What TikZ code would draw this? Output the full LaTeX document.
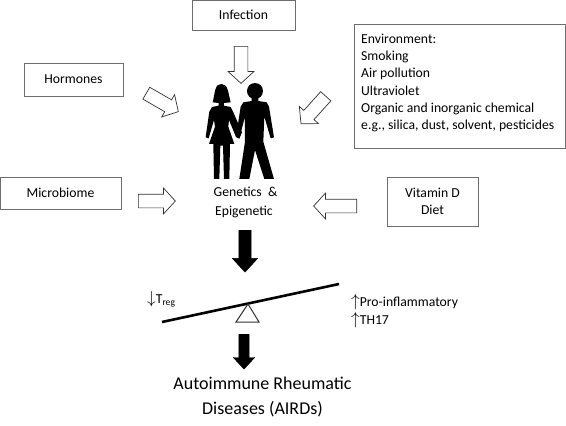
\documentclass[tikz,border=0pt]{standalone}
\usepackage{fontspec}
\setmainfont{Carlito}
\usetikzlibrary{shapes.arrows}
\definecolor{boxgray}{RGB}{110,110,110}
\definecolor{arrowgray}{RGB}{50,50,50}
\newcommand{\arrowup}{{\fontsize{16}{16}\selectfont$\uparrow$}}
\newcommand{\arrowdown}{{\fontsize{16}{16}\selectfont$\downarrow$}}

\begin{document}
\begin{tikzpicture}[x=1pt, y=-1pt, font=\fontsize{13.7}{17.3}\selectfont]

        % Styles
        \tikzset{
            factor/.style={draw=boxgray, line width=0.9pt, fill=white, align=center, inner sep=0pt},
            hollowarrow/.style={single arrow, draw=arrowgray, line width=0.7pt, fill=white, inner sep=6.5pt, minimum height=37pt, single arrow head extend=6pt, single arrow tip angle=95, single arrow head indent=0pt, anchor=tail},
            solidarrow/.style={single arrow, draw=black, fill=black, inner sep=6pt, single arrow head extend=6.5pt, single arrow tip angle=85, single arrow head indent=0pt, anchor=tail, rotate=-90},
            textlabel/.style={inner sep=0pt, align=left, anchor=west}
        }
        \useasboundingbox (0,0) rectangle (566,426);

        % --- FACTORS ---
        \node[factor, minimum width=103pt, minimum height=30pt] (infection) at (243.5,15) {Infection};
        \node[factor, minimum width=99pt, minimum height=33pt] (hormones) at (73.5,79.5) {\raisebox{1.5pt}{Hormones}};
        \node[factor, minimum width=121pt, minimum height=32pt] (microbiome) at (60.5,193) {Microbiome};
        \node[factor, minimum width=91pt, minimum height=49pt] (vitamin) at (432.5,201.5) {Vitamin D\\Diet};
        \node[factor, minimum width=211pt, minimum height=124pt] (environment) at (459.5,86) {};
        \node[textlabel, anchor=north west] (environmenttext) at (361,33.5) {Environment:\\Smoking\\Air pollution\\Ultraviolet\\Organic and inorganic chemical\\e.g., silica, dust, solvent, pesticides};

        % --- HOLLOW ARROWS ---
        \node[hollowarrow, rotate=-90] (infectionarrow) at (241,46) {};
        \node[hollowarrow, rotate=-30] (hormonesarrow) at (146,93) {};
        \node[hollowarrow, rotate=0] (microbiomearrow) at (138,201) {};
        \node[hollowarrow, rotate=228] (environmentarrow) at (326,96) {};
        \node[hollowarrow, rotate=180, minimum height=43pt] (vitaminarrow) at (357,206) {};

        % --- COUPLE ---
        \begin{scope}[shift={(200,75)}, x=0.3333pt, y=-0.3333pt]
            % woman
            \fill (64,27) .. controls (84,27) and (84,50) .. (92,82) -- (72,84) -- (72,92) -- (92,96)
                -- (100,112) -- (126,172) -- (118,191) -- (108,186) -- (87,135) -- (85,155) -- (103,207) -- (90,207)
                -- (88,312) -- (72,312) -- (69,212) -- (61,212) -- (58,312) -- (42,312) -- (40,207) -- (27,207)
                -- (45,155) -- (42,135) -- (26,190) -- (17,187) -- (28,110) -- (36,96) -- (56,92) -- (56,84) -- (38,82)
                .. controls (46,50) and (44,27) .. (64,27) -- cycle;
            % man
            \fill (165,48) circle (8pt);
            \fill (155,68) -- (175,68) -- (175,78) -- (200,82) -- (207,95) -- (222,187) -- (212,190) -- (193,125)
                -- (190,200) -- (222,312) -- (193,312) -- (165,225) -- (148,312) -- (118,312) -- (135,200)
                -- (135,125) -- (118,190) -- (108,186) -- (122,95) -- (130,82) -- (155,78) -- cycle;
        \end{scope}
        \node[inner sep=0pt, align=center] (genetics) at (245.5,191.5) {Genetics\ \ \&};
        \node[inner sep=0pt, align=center] (epigenetic) at (244,212) {Epigenetic};

        % --- BALANCE ---
        \node[solidarrow, minimum height=42pt] (upperarrow) at (245,230) {};
        \node[solidarrow, minimum height=35pt, inner sep=5pt, single arrow head extend=5.5pt] (lowerarrow) at (244,334) {};
        \draw[line width=2.6pt] (162,322) -- (339,284);
        \draw[arrowgray, line width=1pt, fill=white] (248,304) -- (259,322) -- (236,322) -- cycle;

        % --- LABELS ---
        \node[textlabel] (treg) at (147,299) {\arrowdown T\textsubscript{reg}};
        \node[textlabel] (proinflammatory) at (351,302) {\arrowup Pro-inflammatory};
        \node[textlabel] (thseventeen) at (351,320.5) {\arrowup TH17};
        \node[inner sep=0pt, align=center, font=\fontsize{18}{25}\selectfont] (airds) at (262.5,396.5) {Autoimmune Rheumatic\\Diseases (AIRDs)};

\end{tikzpicture}
\end{document}
